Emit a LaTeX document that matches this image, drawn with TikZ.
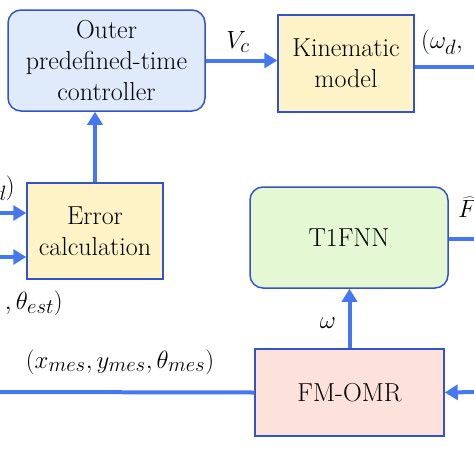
\documentclass[tikz,border=0pt]{standalone}
\usetikzlibrary{positioning, arrows.meta, calc}

\definecolor{linkblue}{HTML}{4577F0}
\definecolor{edgeblue}{HTML}{3553C4}
\definecolor{fillblue}{HTML}{DFEAFB}
\definecolor{fillyellow}{HTML}{FDF3C6}
\definecolor{fillgreen}{HTML}{E4F8D4}
\definecolor{fillpink}{HTML}{FDE2DC}

\tikzset{
  block/.style={draw=edgeblue, line width=1.5pt, align=center, inner sep=0pt,
    font=\fontsize{26}{31}\selectfont},
  roundblock/.style={block, rounded corners=13pt},
  link/.style={draw=linkblue, line width=4pt},
  flow/.style={link, -{Triangle[length=13pt,width=15pt]}},
  tag/.style={font=\fontsize{32}{34}\selectfont, inner sep=1pt}
}

\begin{document}
\begin{tikzpicture}[x=1pt, y=-1pt]

		\useasboundingbox (0,0) rectangle (474,474);
		\clip (0,0) rectangle (474,474);

		% Blocks
		\node[roundblock, fill=fillblue, minimum width=197pt, minimum height=101pt] (outer) at (106.5,60.5) {Outer\\predefined-time\\controller};
		\node[block, fill=fillyellow, minimum width=136pt, minimum height=97pt] (kin) at (346,63.5) {Kinematic\\model};
		\node[block, fill=fillyellow, minimum width=136pt, minimum height=96pt] (err) at (95,231) {Error\\calculation};
		\node[roundblock, fill=fillgreen, minimum width=198pt, minimum height=101pt] (fnn) at (349,237.5) {T1FNN};
		\node[block, fill=fillpink, minimum width=189pt, minimum height=87pt] (omr) at (349.5,392.5) {FM-OMR};

		% Free ends at the edges
		\coordinate (inA) at (-5,213);
		\coordinate (inB) at (-5,257);
		\coordinate (kout) at (480,67);
		\coordinate (fout) at (480,239);
		\coordinate (mesout) at (-5,392);
		\coordinate (omrin) at (480,392);

		% Connectors
		\draw[flow] (outer.east) -- (outer.east -| kin.west);
		\draw[link] (kin.east |- kout) -- (kout);
		\draw[flow] (err.north) -- (err.north |- outer.south);
		\draw[flow] (inA) -- (inA -| err.west);
		\draw[flow] (inB) -- (inB -| err.west);
		\draw[link] (fnn.east |- fout) -- (fout);
		\draw[flow] (omr.north) -- (omr.north |- fnn.south);
		\draw[link] (omr.west) -- (mesout);
		\draw[flow] (omrin) -- (omr.east);

		% Labels
		\node[tag] (vc) at (238,42) {$V_c$};
		\node[tag, anchor=west] (wd) at (420,42) {$(\omega_d,$};
		\node[tag, anchor=west] (fhat) at (457,207) {$\widehat{F}$};
		\node[tag] (w) at (328,323) {$\omega$};
		\node[tag] (mes) at (120,362) {$(x_{mes}, y_{mes}, \theta_{mes})$};
		\node[tag, anchor=east] (des) at (16,188) {${}_d)$};
		\node[tag, anchor=east] (est) at (64,303) {$,\theta_{est})$};

\end{tikzpicture}
\end{document}
